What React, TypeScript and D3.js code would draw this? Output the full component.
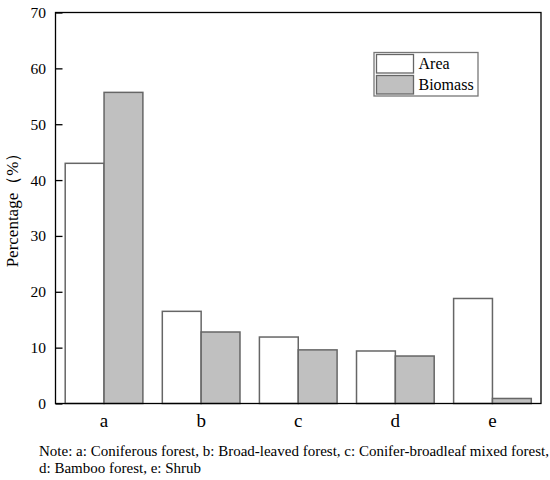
import { useEffect, useRef } from 'react';
import * as d3 from 'd3';

const categories = ['a', 'b', 'c', 'd', 'e'];
const seriesNames = ['Area', 'Biomass'];
const areaValues = [43.0, 16.5, 11.9, 9.4, 18.8];
const biomassValues = [55.7, 12.8, 9.6, 8.5, 0.9];
const yTicks = [0, 10, 20, 30, 40, 50, 60, 70];
const noteLines = [
  'Note: a: Coniferous forest, b: Broad-leaved forest, c: Conifer-broadleaf mixed forest,',
  'd: Bamboo forest, e: Shrub',
];

const W = 550;
const H = 480;
const FONT = "'Liberation Serif', 'Times New Roman', 'DejaVu Serif', serif";
const fills = ['#ffffff', '#c0c0c0'];

export default function App() {
  const svgRef = useRef<SVGSVGElement>(null);

  useEffect(() => {
    if (!svgRef.current) return;
    const svg = d3.select(svgRef.current);
    svg.selectAll('*').remove();

    const margin = { top: 12.5, right: 9, bottom: 76.5, left: 55.5 };
    const innerW = W - margin.left - margin.right;
    const innerH = H - margin.top - margin.bottom;

    const x0 = d3.scaleBand<string>()
      .domain(categories)
      .range([0, innerW])
      .paddingInner(0.2)
      .paddingOuter(0.1);
    const x1 = d3.scaleBand<string>()
      .domain(seriesNames)
      .range([0, x0.bandwidth()]);
    const y = d3.scaleLinear().domain([0, 70]).range([innerH, 0]);

    const g = svg.append('g').attr('transform', `translate(${margin.left},${margin.top})`);

    const rows = categories.map((c, i) => ({ cat: c, values: [areaValues[i], biomassValues[i]] }));

    // bars
    g.selectAll('.grp')
      .data(rows)
      .join('g')
      .attr('transform', d => `translate(${x0(d.cat)},0)`)
      .selectAll('rect')
      .data(d => d.values.map((v, j) => ({ name: seriesNames[j], v, j })))
      .join('rect')
      .attr('x', d => x1(d.name)!)
      .attr('y', d => y(d.v))
      .attr('width', x1.bandwidth())
      .attr('height', d => innerH - y(d.v))
      .attr('fill', d => fills[d.j])
      .attr('stroke', '#666')
      .attr('stroke-width', 1.5);

    // frame
    g.append('rect')
      .attr('width', innerW)
      .attr('height', innerH)
      .attr('fill', 'none')
      .attr('stroke', '#000')
      .attr('stroke-width', 1.3);

    // y axis
    const yAxis = d3.axisLeft(y).tickValues(yTicks).tickSize(-7).tickPadding(9.5);
    g.append('g')
      .call(yAxis)
      .attr('font-family', null)
      .attr('font-size', null)
      .call(a => a.select('.domain').remove())
      .call(a => a.selectAll('.tick line').attr('stroke', '#000').attr('stroke-width', 1.3))
      .call(a => a.selectAll('.tick text')
        .style('font-family', FONT)
        .style('font-size', '15.5px')
        .attr('fill', '#000'));

    // x labels
    const xAxis = d3.axisBottom(x0).tickSize(0).tickPadding(10);
    g.append('g')
      .attr('transform', `translate(0,${innerH})`)
      .call(xAxis)
      .attr('font-family', null)
      .attr('font-size', null)
      .call(a => a.select('.domain').remove())
      .call(a => a.selectAll('.tick text')
        .style('font-family', FONT)
        .style('font-size', '19px')
        .attr('fill', '#000'));

    // y title
    svg.append('text')
      .attr('transform', `translate(17.5,206) rotate(-90)`)
      .attr('text-anchor', 'middle')
      .style('font-family', FONT)
      .style('font-size', '17px')
      .attr('fill', '#000')
      .text('Percentage（%）');

    // legend
    const lg = svg.append('g').attr('transform', 'translate(374,52.5)');
    lg.append('rect')
      .attr('width', 104)
      .attr('height', 43.5)
      .attr('fill', '#fff')
      .attr('stroke', '#777')
      .attr('stroke-width', 1.3);
    seriesNames.forEach((name, i) => {
      const row = lg.append('g').attr('transform', `translate(2.5,${2 + i * 21})`);
      row.append('rect')
        .attr('width', 37)
        .attr('height', 18.5)
        .attr('fill', fills[i])
        .attr('stroke', '#666')
        .attr('stroke-width', 1.3);
      row.append('text')
        .attr('x', 42)
        .attr('y', 14.5)
        .style('font-family', FONT)
        .style('font-size', '16px')
        .attr('fill', '#000')
        .text(name);
    });

    // note
    svg.append('g')
      .selectAll('text')
      .data(noteLines)
      .join('text')
      .attr('x', 39)
      .attr('y', (_, i) => 456 + i * 17)
      .style('font-family', FONT)
      .style('font-size', '15px')
      .attr('fill', '#000')
      .text(d => d);
  }, []);

  return (
    <div style={{ position: 'absolute', left: 0, top: 0, width: W, height: H, background: '#fff' }}>
      <svg ref={svgRef} width={W} height={H} />
    </div>
  );
}
